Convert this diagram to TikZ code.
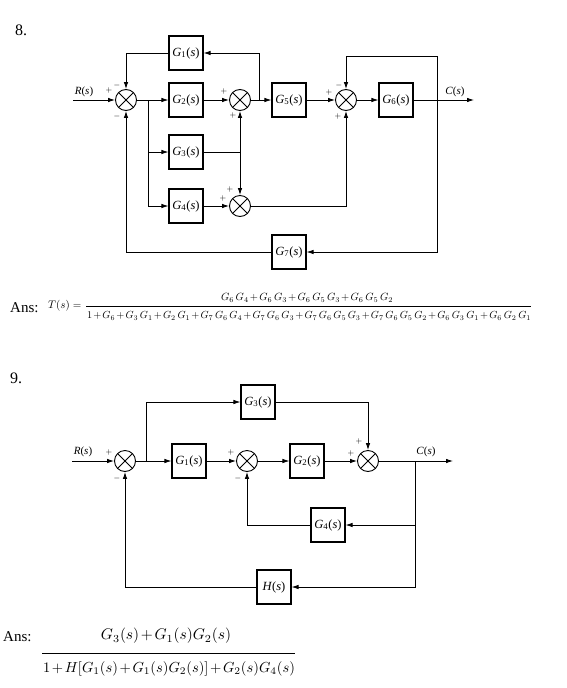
\documentclass[tikz,border=0pt]{standalone}
\usepackage{fontspec}
\setmainfont{Liberation Serif}
\usepackage{graphicx}
\usetikzlibrary{arrows.meta}
\newcommand{\tfn}[1]{\textit{G}\textsubscript{#1}(\textit{s})}
\begin{document}
\begin{tikzpicture}[x=1pt,y=-1pt,
  blk/.style={draw, line width=1.1pt, minimum width=34pt, minimum height=34pt, inner sep=0pt, font=\fontsize{12.5}{14}\selectfont},
  sumj/.style={draw, line width=0.9pt, circle, minimum size=21pt, inner sep=0pt,
    path picture={\draw[line width=0.9pt] (path picture bounding box.north west)--(path picture bounding box.south east)
      (path picture bounding box.north east)--(path picture bounding box.south west);}},
  sig/.style={font=\fontsize{8}{9}\selectfont, inner sep=0pt},
  wire/.style={line width=0.8pt},
  arr/.style={wire, -{Latex[length=7pt,width=4.5pt]}},
  lbl/.style={font=\fontsize{11}{13}\selectfont, inner sep=0pt},
  ttl/.style={font=\fontsize{16}{18}\selectfont, inner sep=0pt},
  ans/.style={font=\fontsize{15}{17}\selectfont, inner sep=0pt, anchor=west}]
\useasboundingbox (0,0) rectangle (567,688);

% ---------------- Problem 8 ----------------
\node[ttl] (t8) at (21,30) {8.};
\node[sumj] (s1) at (126,100) {};
\node[blk]  (g2) at (186,100) {\tfn{2}};
\node[sumj] (s2) at (240,100) {};
\node[blk]  (g5) at (289,100) {\tfn{5}};
\node[sumj] (s3) at (346,100) {};
\node[blk]  (g6) at (396,100) {\tfn{6}};
\node[blk]  (g1) at (186,53) {\tfn{1}};
\node[blk]  (g3) at (186,152) {\tfn{3}};
\node[blk]  (g4) at (186,206) {\tfn{4}};
\node[sumj] (s4) at (240,206) {};
\node[blk]  (g7) at (289,252) {\tfn{7}};
\coordinate (r8) at (73,100);
\coordinate (c8) at (474,100);
\coordinate (b1) at (148,100);
\coordinate (b2) at (259,100);
\coordinate (b3) at (437,100);
\coordinate (t1) at (437,56);
\coordinate (j3) at (240,152);

\draw[arr] (r8) -- (s1);
\draw[arr] (s1) -- (g2);
\draw[arr] (g2) -- (s2);
\draw[arr] (s2) -- (g5);
\draw[arr] (b2) |- (g1.east);
\draw[arr] (g1.west) -| (s1.north);
\draw[arr] (b1) |- (g4.west);
\draw[arr] (b1 |- g3.west) -- (g3.west);
\draw[wire] (g3.east) -- (j3);
\draw[arr] (j3) -- (s2.south);
\draw[arr] (j3) -- (s4.north);
\draw[arr] (g4) -- (s4);
\draw[arr] (s4.east) -| (s3.south);
\draw[arr] (g5) -- (s3);
\draw[arr] (s3) -- (g6);
\draw[arr] (g6) -- (c8);
\draw[arr] (b3) -- (t1) -| (s3.north);
\draw[arr] (b3) |- (g7.east);
\draw[arr] (g7.west) -| (s1.south);

\node[lbl] (lr8) at (84,92) {\textit{R}(\textit{s})};
\node[lbl] (lc8) at (455,92) {\textit{C}(\textit{s})};
\node[sig] at (109,90) {$+$};
\node[sig] at (117,85) {$-$};
\node[sig] at (117,116) {$-$};
\node[sig] at (224,91) {$+$};
\node[sig] at (233,115) {$+$};
\node[sig] at (339,85) {$-$};
\node[sig] at (329,92) {$+$};
\node[sig] at (338,116) {$+$};
\node[sig] at (230,189) {$+$};
\node[sig] at (223,198) {$+$};

\node[ans] (a8) at (10,308) {Ans:};
\node[inner sep=0pt, anchor=west, font=\fontsize{10.5}{12}\selectfont] (ts) at (48,306) {$T(s)=$};
\node[inner sep=0pt] (n8) at (307,298) {\resizebox{172pt}{!}{$\medmuskip=2mu G_6\,G_4+G_6\,G_3+G_6\,G_5\,G_3+G_6\,G_5\,G_2$}};
\node[inner sep=0pt] (d8) at (309,316) {\resizebox{444pt}{!}{$\medmuskip=2mu 1+G_6+G_3\,G_1+G_2\,G_1+G_7\,G_6\,G_4+G_7\,G_6\,G_3+G_7\,G_6\,G_5\,G_3+G_7\,G_6\,G_5\,G_2+G_6\,G_3\,G_1+G_6\,G_2\,G_1$}};
\draw[wire] (86,306) -- (531,306);

% ---------------- Problem 9 ----------------
\node[ttl] (t9) at (16,378) {9.};
\node[sumj] (p1) at (125,461) {};
\node[blk]  (h1) at (189,461) {\tfn{1}};
\node[sumj] (p2) at (247,461) {};
\node[blk]  (h2) at (307,461) {\tfn{2}};
\node[sumj] (p3) at (368,461) {};
\node[blk]  (h3) at (258,402) {\tfn{3}};
\node[blk]  (h4) at (328,525) {\tfn{4}};
\node[blk]  (hh) at (274,587) {\textit{H}(\textit{s})};
\coordinate (r9) at (72,461);
\coordinate (c9) at (453,461);
\coordinate (b4) at (146,461);
\coordinate (b5) at (415,461);

\draw[arr] (r9) -- (p1);
\draw[arr] (p1) -- (h1);
\draw[arr] (b4) |- (h3.west);
\draw[arr] (h1) -- (p2);
\draw[arr] (p2) -- (h2);
\draw[arr] (h2) -- (p3);
\draw[arr] (h3.east) -| (p3.north);
\draw[arr] (p3) -- (c9);
\draw[arr] (b5) |- (h4.east);
\draw[arr] (h4.west) -| (p2.south);
\draw[arr] (b5) |- (hh.east);
\draw[arr] (hh.west) -| (p1.south);

\node[lbl] (lr9) at (83,452) {\textit{R}(\textit{s})};
\node[lbl] (lc9) at (426,452) {\textit{C}(\textit{s})};
\node[sig] at (109,452) {$+$};
\node[sig] at (117,478) {$-$};
\node[sig] at (231,452) {$+$};
\node[sig] at (238,478) {$-$};
\node[sig] at (359,441) {$+$};
\node[sig] at (351,453) {$+$};

\node[ans] (a9) at (3,637) {Ans:};
\node[inner sep=0pt] (n9) at (166,636) {\resizebox{130pt}{!}{$\medmuskip=2mu G_3(s)+G_1(s)G_2(s)$}};
\node[inner sep=0pt] (d9) at (169,669) {\resizebox{252pt}{!}{$\medmuskip=2mu 1+H[G_1(s)+G_1(s)G_2(s)]+G_2(s)G_4(s)$}};
\draw[wire] (42,653) -- (295,653);
\end{tikzpicture}
\end{document}
